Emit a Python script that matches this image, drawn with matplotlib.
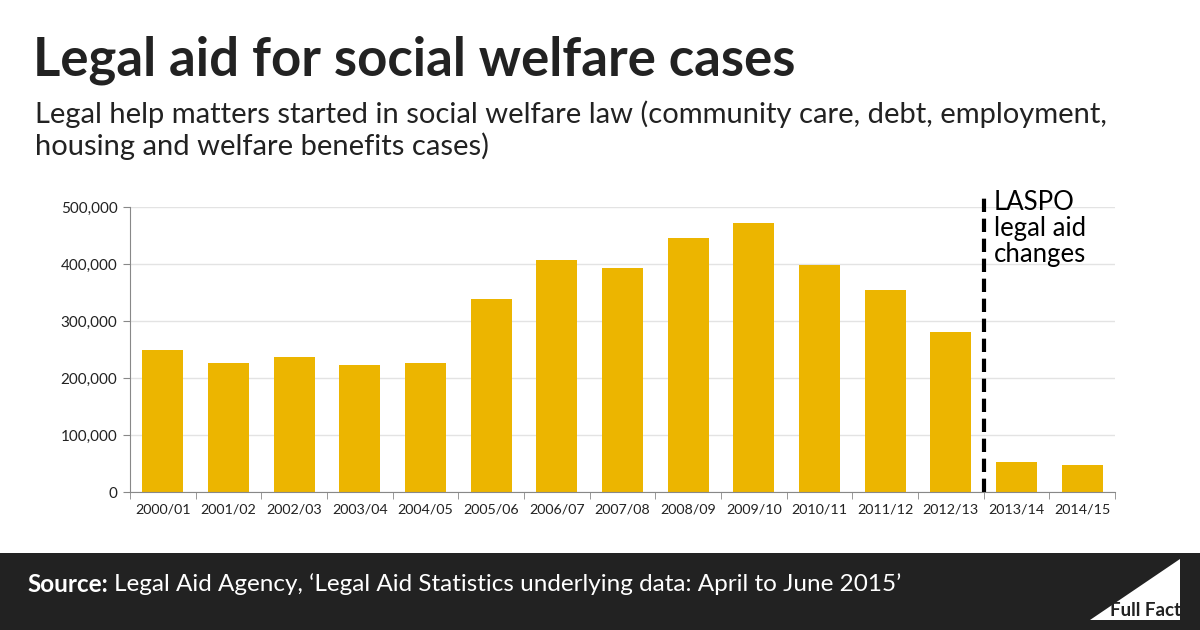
import matplotlib.pyplot as plt
from matplotlib.patches import Polygon, Rectangle
from matplotlib.ticker import FuncFormatter

plt.rcParams['font.family'] = ['Lato', 'DejaVu Sans']

# Legal help matters started in social welfare law
years = ['2000/01', '2001/02', '2002/03', '2003/04', '2004/05', '2005/06', '2006/07',
         '2007/08', '2008/09', '2009/10', '2010/11', '2011/12', '2012/13', '2013/14', '2014/15']
matters = [249000, 226000, 237000, 223000, 226000, 339000, 407000,
           393000, 445000, 472000, 398000, 354000, 281000, 53000, 48000]
y_ticks = [0, 100000, 200000, 300000, 400000, 500000]
laspo_pos = 12.5
laspo_text = 'LASPO\nlegal aid\nchanges'

bar_color = '#ECB500'
dark = '#222222'

fig = plt.figure(figsize=(12, 6.3), dpi=100)
fig.patch.set_facecolor('white')

# title and subtitle
fig.text(33 / 1200, 1 - 60 / 630, 'Legal aid for social welfare cases', fontsize=38,
         fontweight='bold', color=dark, va='center', ha='left')
fig.text(35 / 1200, 1 - 130 / 630,
         'Legal help matters started in social welfare law (community care, debt, employment,\n'
         'housing and welfare benefits cases)',
         fontsize=21, color=dark, va='center', ha='left', linespacing=1.2)

ax = fig.add_axes([130 / 1200, 1 - 492 / 630, 985 / 1200, 285 / 630])
x = range(len(years))
ax.bar(x, matters, width=0.62, color=bar_color, zorder=2)

ax.set_xlim(-0.5, len(years) - 0.5)
ax.set_ylim(0, 500000)
ax.set_yticks(y_ticks)
ax.yaxis.set_major_formatter(FuncFormatter(lambda v, p: '{:,.0f}'.format(v)))
ax.set_xticks(list(x))
ax.set_xticklabels(years)
ax.set_xticks([i - 0.5 for i in range(len(years) + 1)], minor=True)
ax.tick_params(axis='x', which='major', length=0, pad=8, labelsize=10.3, labelcolor=dark)
ax.tick_params(axis='x', which='minor', length=5, color='#888888')
ax.tick_params(axis='y', length=5, color='#888888', labelsize=11, labelcolor=dark, pad=4)
ax.grid(axis='y', color='#e3e3e3', linewidth=1, zorder=0)

for side in ['top', 'right']:
    ax.spines[side].set_visible(False)
for side in ['left', 'bottom']:
    ax.spines[side].set_color('#888888')

# LASPO marker
ax.plot([laspo_pos, laspo_pos], [0, 522000], color='black', linewidth=3,
        linestyle=(0, (3.2, 1.6)), clip_on=False, zorder=3)
ax.text(laspo_pos + 0.15, 530000, laspo_text, fontsize=18.5, color='black',
        va='top', ha='left', linespacing=1.05)

# footer band
fig.patches.append(Rectangle((0, 0), 1, 77 / 630, transform=fig.transFigure,
                             facecolor=dark, edgecolor='none', zorder=0))
fig.text(27 / 1200, 1 - 584 / 630, 'Source:', fontsize=17.5, color='white',
         fontweight='bold', va='center', ha='left')
fig.text(114 / 1200, 1 - 584 / 630,
         'Legal Aid Agency, \u2018Legal Aid Statistics underlying data: April to June 2015\u2019',
         fontsize=17.5, color='white', va='center', ha='left')

# logo
fig.patches.append(Polygon([(1090 / 1200, 1 - 620 / 630), (1180 / 1200, 1 - 559 / 630),
                            (1180 / 1200, 1 - 620 / 630)], closed=True,
                           transform=fig.transFigure, facecolor='white', edgecolor='none'))
fig.text(1181 / 1200, 1 - 611 / 630, 'Full Fact', fontsize=13.5, fontweight='bold',
         color=dark, ha='right', va='center')

fig.savefig('out.png', dpi=100)
